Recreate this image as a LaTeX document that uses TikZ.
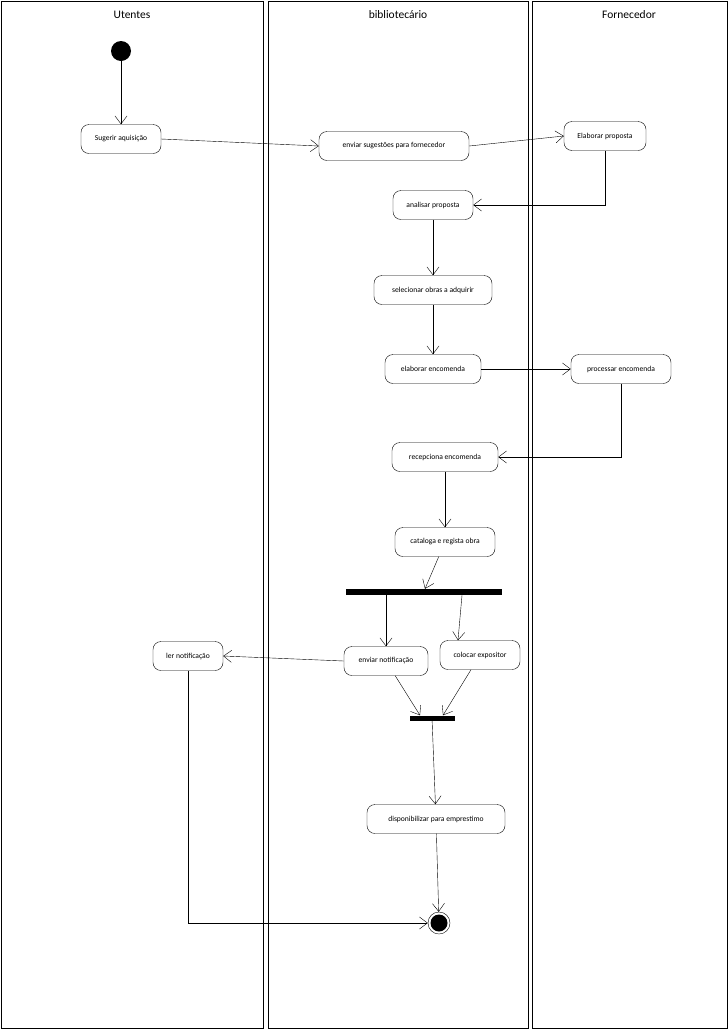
\documentclass[tikz,border=0pt]{standalone}
\usepackage{fontspec}
\setmainfont{Carlito}
\usetikzlibrary{arrows.meta,positioning,calc}

\begin{document}
\begin{tikzpicture}[
    x=1pt, y=-1pt,
    act/.style={rectangle, rounded corners=8pt, draw, thin, font=\fontsize{7.6}{9}\selectfont, minimum height=29pt, inner xsep=3pt},
    lane/.style={draw, thick},
    bar/.style={fill=black},
    arrow/.style={->, >={Straight Barb[length=8pt,width=12pt]}, thin}
]
\useasboundingbox (0,0) rectangle (728,1029);

% swimlanes
\draw[lane] (1,1) rectangle (263,1028);
\draw[lane] (268,1) rectangle (528,1028);
\draw[lane] (532,1) rectangle (727,1028);
\node[font=\fontsize{11.5}{13}\selectfont] (hutentes) at (132,15) {Utentes};
\node[font=\fontsize{11.5}{13}\selectfont] (hbib) at (398,15) {bibliotecário};
\node[font=\fontsize{11.5}{13}\selectfont] (hforn) at (629,15) {Fornecedor};

% nodes
\node[circle, fill=black, minimum size=20pt, inner sep=0pt] (start) at (121,51) {};
\node[act, minimum width=80pt] (sugerir) at (121,139) {Sugerir aquisição};
\node[act, minimum width=150pt] (enviar) at (394,146) {enviar sugestões para fornecedor};
\node[act, minimum width=82pt] (elabprop) at (605,136) {Elaborar proposta};
\node[act, minimum width=80pt] (analisar) at (433,205) {analisar proposta};
\node[act, minimum width=118pt] (selecionar) at (433,290) {selecionar obras a adquirir};
\node[act, minimum width=96pt] (elabenc) at (433,369) {elaborar encomenda};
\node[act, minimum width=100pt] (processar) at (621,369) {processar encomenda};
\node[act, minimum width=106pt] (recepciona) at (445,457) {recepciona encomenda};
\node[act, minimum width=100pt] (cataloga) at (445,542) {cataloga e regista obra};
\node[bar, minimum width=156pt, minimum height=6pt, inner sep=0pt] (fork) at (424,592) {};
\node[act, minimum width=84pt] (notificar) at (386,661) {enviar notificação};
\node[act, minimum width=80pt] (expositor) at (480,655) {colocar expositor};
\node[act, minimum width=70pt] (ler) at (188,656) {ler notificação};
\node[bar, minimum width=45pt, minimum height=5pt, inner sep=0pt] (join) at (432,718) {};
\node[act, minimum width=138pt] (disponibilizar) at (436,819) {disponibilizar para emprestimo};
\node[circle, draw, thin, minimum size=22pt, inner sep=0pt] (fim) at (439,923) {};
\node[circle, fill=black, minimum size=17pt, inner sep=0pt] at (fim) {};

% connectors
\draw[arrow] (start) -- (sugerir);
\draw[arrow] (sugerir.east) -- (enviar.west);
\draw[arrow] (enviar.east) -- (elabprop.west);
\draw[arrow] (elabprop.south) |- (analisar.east);
\draw[arrow] (analisar) -- (selecionar);
\draw[arrow] (selecionar) -- (elabenc);
\draw[arrow] (elabenc.east) -- (processar.west);
\draw[arrow] (processar.south) |- (recepciona.east);
\draw[arrow] (recepciona) -- (cataloga);
\draw[arrow] (cataloga) -- ($(fork.north)+(1,0)$);
\draw[arrow] ($(fork.south)+(-38,0)$) -- (notificar);
\draw[arrow] ($(fork.south)+(38,0)$) -- ($(expositor.north)+(-22,0)$);
\draw[arrow] (notificar.west) -- (ler.east);
\draw[arrow] (notificar) -- ($(join.north)+(-12,0)$);
\draw[arrow] (expositor) -- ($(join.north)+(11,0)$);
\draw[arrow] (join) -- (disponibilizar);
\draw[arrow] (disponibilizar) -- (fim);
\draw[arrow] (ler.south) |- (fim.west);

\end{tikzpicture}
\end{document}
